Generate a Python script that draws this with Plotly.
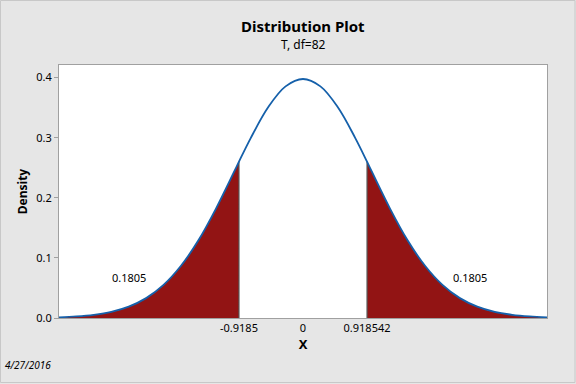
import plotly.graph_objects as go

# Values (t distribution, df = 82)
x_vals = [-3.5, -3.25, -3.0, -2.75, -2.5, -2.25, -2.0, -1.75, -1.5, -1.25, -1.0, -0.9185,
          -0.75, -0.5, -0.25, 0.0, 0.25, 0.5, 0.75, 0.918542, 1.0, 1.25, 1.5, 1.75,
          2.0, 2.25, 2.5, 2.75, 3.0, 3.25, 3.5]
density = [0.0012, 0.0026, 0.0053, 0.0102, 0.0189, 0.0331, 0.0551, 0.0869, 0.1293, 0.1817, 0.2405, 0.2601,
           0.2994, 0.3506, 0.3854, 0.3977, 0.3854, 0.3506, 0.2994, 0.2601, 0.2405, 0.1817, 0.1293, 0.0869,
           0.0551, 0.0331, 0.0189, 0.0102, 0.0053, 0.0026, 0.0012]
lower_cut = -0.9185
upper_cut = 0.918542
tail_area_labels = ["0.1805", "0.1805"]
tick_vals = [-0.9185, 0, 0.918542]
tick_text = ["-0.9185", "0", "0.918542"]
y_ticks = [0.0, 0.1, 0.2, 0.3, 0.4]

FONT = "Noto Sans"
LINE = "#1560AA"
FILL = "#921414"

left = [(x, y) for x, y in zip(x_vals, density) if x <= lower_cut]
right = [(x, y) for x, y in zip(x_vals, density) if x >= upper_cut]
y_low = dict(zip(x_vals, density))[lower_cut]
y_up = dict(zip(x_vals, density))[upper_cut]

fig = go.Figure()
for pts in (left, right):
    fig.add_trace(go.Scatter(x=[p[0] for p in pts], y=[p[1] for p in pts], mode="lines",
                             line=dict(width=0, shape="spline", color=FILL), fill="tozeroy",
                             fillcolor=FILL, hoverinfo="skip", showlegend=False))
for b, h in ((lower_cut, y_low), (upper_cut, y_up)):
    fig.add_trace(go.Scatter(x=[b, b], y=[0, h], mode="lines",
                             line=dict(width=1.2, color="#555555"), showlegend=False))
fig.add_trace(go.Scatter(x=x_vals, y=density, mode="lines",
                         line=dict(width=1.8, color=LINE, shape="spline"), showlegend=False))

fig.add_annotation(x=-2.49, y=0.068, text=tail_area_labels[0], showarrow=False,
                   font=dict(family=FONT, size=11, color="#000"))
fig.add_annotation(x=2.39, y=0.068, text=tail_area_labels[1], showarrow=False,
                   font=dict(family=FONT, size=11, color="#000"))

fig.add_annotation(xref="paper", yref="paper", x=0.5, y=1 + 39 / 253, yanchor="middle",
                   text="<b>Distribution Plot</b>",
                   showarrow=False, font=dict(family=FONT, size=15, color="#000"))
fig.add_annotation(xref="paper", yref="paper", x=0.5, y=1 + 21 / 253, yanchor="middle",
                   text="T, df=82",
                   showarrow=False, font=dict(family=FONT, size=12, color="#000"))
fig.add_annotation(xref="paper", yref="paper", x=-56 / 488, y=-47 / 253, xanchor="left",
                   yanchor="middle", text="<i>4/27/2016</i>", showarrow=False,
                   font=dict(family=FONT, size=10, color="#000"))

fig.add_shape(type="rect", xref="paper", yref="paper",
              x0=-58.5 / 488, x1=1 + 28 / 488, y0=-64.5 / 253, y1=1 + 64.5 / 253,
              line=dict(color="#C8C8C8", width=1), layer="below")

fig.update_layout(
    width=576, height=384,
    margin=dict(l=59, r=29, t=65, b=66),
    paper_bgcolor="#E6E6E6", plot_bgcolor="white",
    font=dict(family=FONT, size=11, color="#000"),
    xaxis=dict(range=[-3.5, 3.5], tickvals=tick_vals, ticktext=tick_text, ticks="",
               showgrid=False, zeroline=False, showline=True, linecolor="#A0A0A0", mirror=True,
               title=dict(text="<b>X</b>", font=dict(size=13), standoff=0),
               tickfont=dict(size=11)),
    yaxis=dict(range=[0, 0.421], tickvals=y_ticks, tickformat=".1f", ticks="outside", ticklen=4,
               tickcolor="#A0A0A0", showgrid=False, zeroline=False, showline=True,
               linecolor="#A0A0A0", mirror=True,
               title=dict(text="<b>Density</b>", font=dict(size=12), standoff=6),
               tickfont=dict(size=11)),
)

fig.write_html("out.html", config={"displayModeBar": False},
               post_script="document.body.style.margin='0';")
